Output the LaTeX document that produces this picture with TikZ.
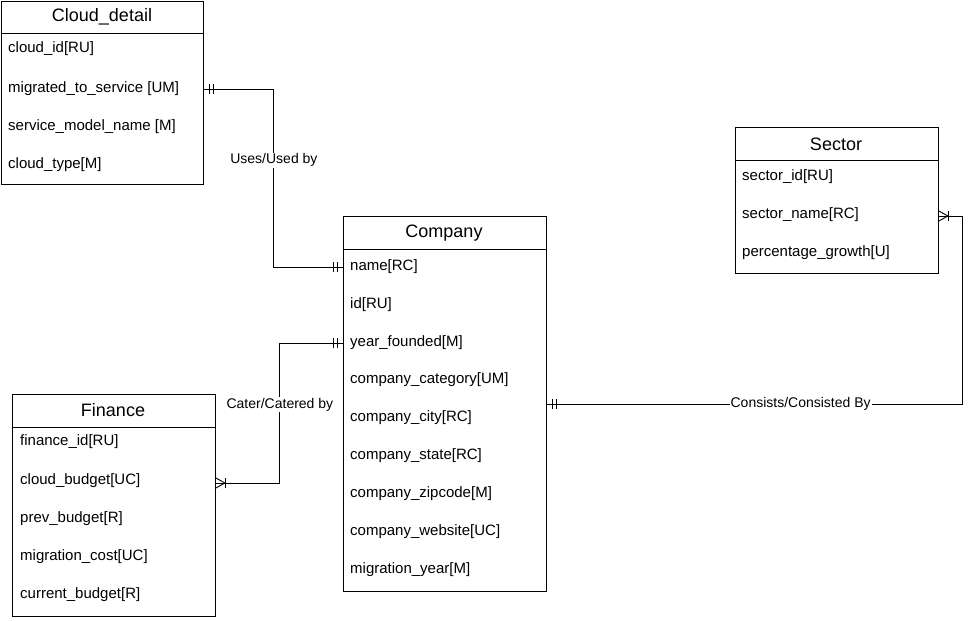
\documentclass[tikz,border=0pt]{standalone}
\usepackage{fontspec}
\setmainfont{Liberation Sans}
\usetikzlibrary{calc}
\begin{document}
\begin{tikzpicture}[x=1pt,y=-1pt,
  ent/.style={draw,line width=0.9pt,inner sep=0pt,anchor=north west},
  ttl/.style={font=\fontsize{18}{20}\selectfont},
  row/.style={anchor=west,inner sep=0pt,font=\fontsize{15}{17}\selectfont},
  rel/.style={line width=0.9pt},
  lbl/.style={fill=white,inner sep=1pt,font=\fontsize{14}{16}\selectfont}]
\useasboundingbox (0,0) rectangle (975,621);
% entities
\node[ent,minimum width=202pt,minimum height=183pt] (cd) at (1,1) {};
\draw[line width=0.9pt] (1,33) -- (203,33);
\node[ttl] (cdt) at (102,17) {Cloud\_detail};
\node[row] (cd1) at (8,49) {cloud\_id[RU]};
\node[row] (cd2) at (8,89) {migrated\_to\_service [UM]};
\node[row] (cd3) at (8,127) {service\_model\_name [M]};
\node[row] (cd4) at (8,165) {cloud\_type[M]};

\node[ent,minimum width=203pt,minimum height=146pt] (se) at (735,127) {};
\draw[line width=0.9pt] (735,160) -- (938,160);
\node[ttl] (set) at (836,144) {Sector};
\node[row] (se1) at (742,177) {sector\_id[RU]};
\node[row] (se2) at (742,215) {sector\_name[RC]};
\node[row] (se3) at (742,253) {percentage\_growth[U]};

\node[ent,minimum width=203pt,minimum height=375pt] (co) at (343,216) {};
\draw[line width=0.9pt] (343,249) -- (546,249);
\node[ttl] (cot) at (444,233) {Company};
\node[row] (co1) at (350,267) {name[RC]};
\node[row] (co2) at (350,305) {id[RU]};
\node[row] (co3) at (350,343) {year\_founded[M]};
\node[row] (co4) at (350,380) {company\_category[UM]};
\node[row] (co5) at (350,418) {company\_city[RC]};
\node[row] (co6) at (350,456) {company\_state[RC]};
\node[row] (co7) at (350,494) {company\_zipcode[M]};
\node[row] (co8) at (350,532) {company\_website[UC]};
\node[row] (co9) at (350,570) {migration\_year[M]};

\node[ent,minimum width=203pt,minimum height=222pt] (fi) at (12,394) {};
\draw[line width=0.9pt] (12,427) -- (215,427);
\node[ttl] (fit) at (113,410) {Finance};
\node[row] (fi1) at (20,442) {finance\_id[RU]};
\node[row] (fi2) at (20,481) {cloud\_budget[UC]};
\node[row] (fi3) at (20,519) {prev\_budget[R]};
\node[row] (fi4) at (20,557) {migration\_cost[UC]};
\node[row] (fi5) at (20,595) {current\_budget[R]};

% anchor coordinates on box edges
\coordinate (a1) at (cd.east |- cd2);
\coordinate (a2) at (co.west |- co1);
\coordinate (b1) at (fi.east |- 0,483);
\coordinate (b2) at (co.west |- co3);
\coordinate (c1) at (co.east |- 0,404);
\coordinate (c2) at (se.east |- 0,216);

% relations
\draw[rel] (a1) -- ++(70,0) |- (a2) node[pos=0.2,lbl] {Uses/Used by};
\draw[rel] (b1) -- ++(64,0) |- (b2) node[pos=0.28,lbl] {Cater/Catered by};
\draw[rel] (c1) -| ++(416,-188) node[pos=0.305,lbl] {Consists/Consisted By};
\draw[rel] (c1) ++(416,-188) -- (c2);

% one-and-only-one marks
\foreach \p/\s in {a1/1,a2/-1,b2/-1,c1/1}{
  \draw[rel] ($(\p)+(\s*6,-5)$) -- ++(0,10);
  \draw[rel] ($(\p)+(\s*10,-5)$) -- ++(0,10);
}
% crow's foot (many)
\foreach \p/\s in {b1/1,c2/1}{
  \draw[rel] ($(\p)+(0,-5)$) -- ($(\p)+(\s*9,0)$) -- ($(\p)+(0,5)$);
  \draw[rel] ($(\p)+(\s*10,-5)$) -- ++(0,10);
}
\end{tikzpicture}
\end{document}
